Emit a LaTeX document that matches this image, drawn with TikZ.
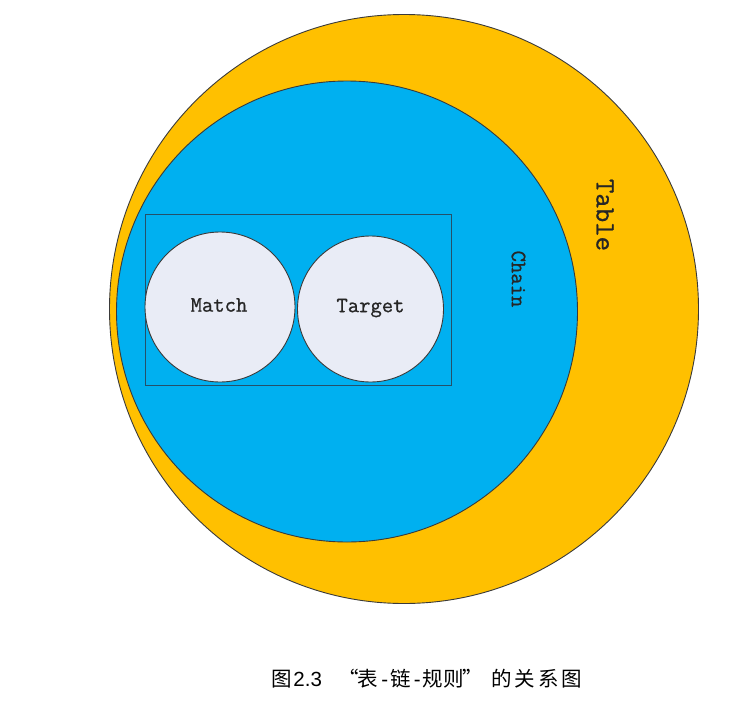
\documentclass[tikz,border=0pt]{standalone}
\usepackage{fontspec}
\newfontfamily\cjkfont{Noto Sans CJK SC}
\newfontfamily\capsans{Liberation Sans}
\newfontfamily\labelmono{Latin Modern Mono}[FakeBold=0.9]
\newcommand\capbox[2]{\makebox[#1pt][c]{#2}}
\definecolor{tableorange}{HTML}{FFC000}
\definecolor{chainblue}{HTML}{00B0F0}
\definecolor{rulefill}{HTML}{E9ECF6}
\definecolor{edgegray}{HTML}{3A3A3A}
\definecolor{boxedge}{HTML}{24506A}
\definecolor{textgray}{HTML}{262626}
\tikzset{
  ring/.style={circle, draw=edgegray, line width=0.9pt, inner sep=0pt, outer sep=0pt},
  rulecircle/.style={ring, fill=rulefill},
  monolabel/.style={font=\labelmono\fontsize{22}{26}\selectfont, text=textgray, inner sep=0pt},
  caption/.style={font=\cjkfont\fontsize{20.5}{24}\selectfont, text=black, inner sep=0pt}
}
\begin{document}
\begin{tikzpicture}[x=1pt,y=-1pt]
  \useasboundingbox (0,0) rectangle (748,702);
  \node[ring, fill=tableorange, minimum size=589pt] (table) at (404,309) {};
  \node[ring, fill=chainblue, minimum size=461pt] (chain) at (347,311.5) {};
  \node[draw=boxedge, line width=0.9pt, minimum width=306pt, minimum height=171pt, inner sep=0pt] (rules) at (298,299.5) {};
  \node[rulecircle, minimum size=150pt] (match) at (220,307) {};
  \node[rulecircle, minimum size=146pt] (target) at (370.5,309) {};
  \node[monolabel] (matchlbl) at (219,305) {Match};
  \node[monolabel] (targetlbl) at (370.5,308) {Target};
  \node[monolabel, rotate=-90] (chainlbl) at (518.5,279) {Chain};
  \node[monolabel, font=\labelmono\fontsize{28}{32}\selectfont, rotate=-90] (tablelbl) at (605,215) {Table};
  \node[caption, anchor=base west] (cap) at (270,686) {%
    \capbox{23}{图}%
    \capbox{29}{\capsans\fontsize{20.5}{24}\selectfont 2.3}%
    \capbox{19}{}%
    \capbox{16}{“}%
    \capbox{22}{表}%
    \capbox{11}{\capsans\fontsize{20.5}{24}\selectfont -}%
    \capbox{22}{链}%
    \capbox{10}{\capsans\fontsize{20.5}{24}\selectfont -}%
    \capbox{21}{规}%
    \capbox{22}{则}%
    \capbox{16}{”}%
    \capbox{9}{}%
    \capbox{23}{的}%
    \capbox{23.5}{关}%
    \capbox{23.5}{系}%
    \capbox{23}{图}};
\end{tikzpicture}
\end{document}
